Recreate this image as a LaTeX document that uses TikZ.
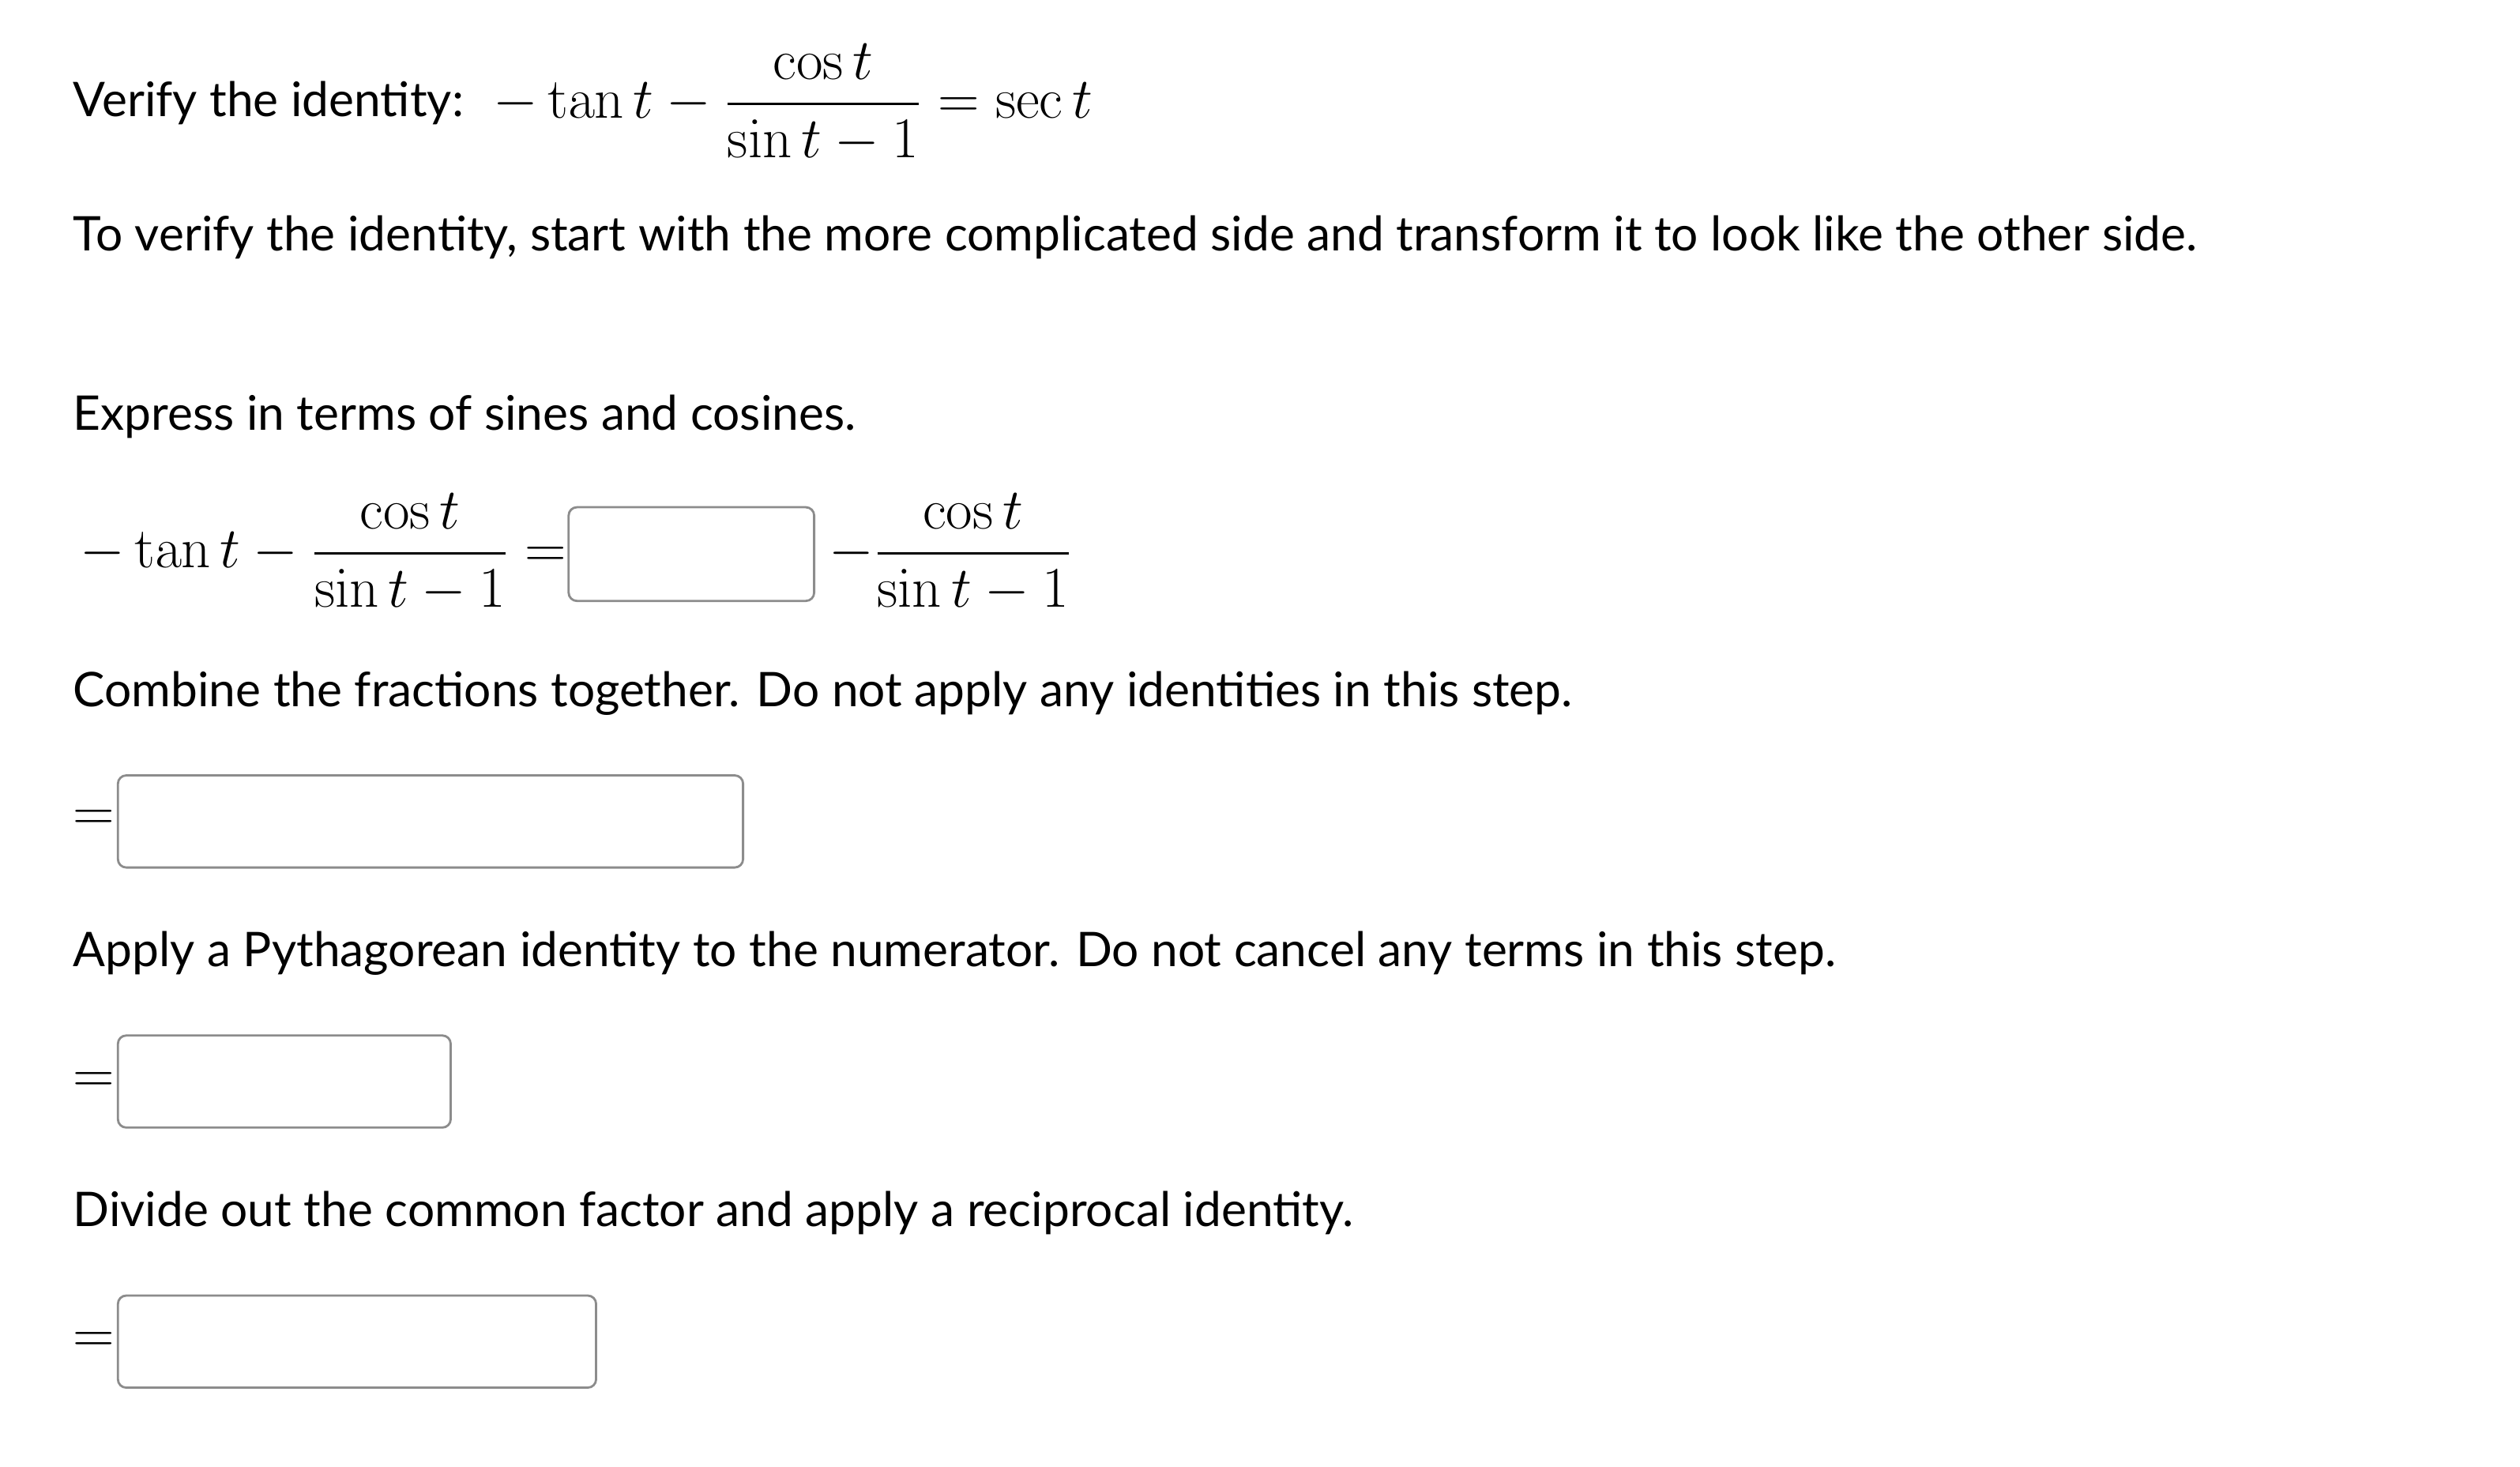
\documentclass[tikz,border=0pt]{standalone}
\usepackage{amsmath}
\usepackage[no-math]{fontspec}
\setmainfont{Lato}
\begin{document}
\begin{tikzpicture}[x=0.02045cm,y=-0.02045cm,
  txt/.style={anchor=west,inner sep=0pt,font=\fontsize{17.2}{20}\selectfont},
  mth/.style={anchor=west,inner sep=0pt,font=\fontsize{19.5}{23}\selectfont},
  ansbox/.style={draw=black!45,line width=0.8pt,rounded corners=3pt}]
\useasboundingbox (0,0) rectangle (1560,908);
\node[txt] (t1) at (45,64) {Verify the identity:};
\node[mth] (m1) at (305,64) {$-\tan t-\dfrac{\cos t}{\sin t-1}=\sec t$};
\node[txt] (t2) at (45,147) {To verify the identity, start with the more complicated side and transform it to look like the other side.};
\node[txt] (t3) at (45,258) {Express in terms of sines and cosines.};
\node[mth,anchor=east] (m2) at (351,342) {$-\tan t-\dfrac{\cos t}{\sin t-1}=$};
\draw[ansbox] (352,314) rectangle (504,372);
\node[mth] (m3) at (513,342) {$-\dfrac{\cos t}{\sin t-1}$};
\node[txt] (t4) at (45,429) {Combine the fractions together. Do not apply any identities in this step.};
\node[mth] (e1) at (45,508) {$=$};
\draw[ansbox] (73,480) rectangle (460,537);
\node[txt] (t5) at (45,590) {Apply a Pythagorean identity to the numerator. Do not cancel any terms in this step.};
\node[mth] (e2) at (45,670) {$=$};
\draw[ansbox] (73,641) rectangle (279,698);
\node[txt] (t6) at (45,751) {Divide out the common factor and apply a reciprocal identity.};
\node[mth] (e3) at (45,831) {$=$};
\draw[ansbox] (73,802) rectangle (369,859);
\end{tikzpicture}
\end{document}
